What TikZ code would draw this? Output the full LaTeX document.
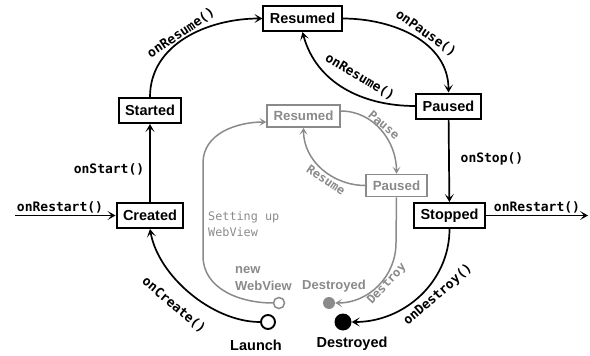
\documentclass[tikz,border=0pt]{standalone}
\usepackage{fontspec}
\setmainfont{Liberation Sans}
\newfontfamily\monofam{DejaVu Sans Mono}
\usetikzlibrary{arrows.meta}
\definecolor{gcol}{RGB}{138,138,138}
\tikzset{
  stbox/.style={draw, line width=2pt, font=\bfseries\fontsize{14.5}{16}\selectfont,
    minimum height=25pt, inner xsep=6.5pt, inner ysep=0pt},
  gbox/.style={draw=gcol, text=gcol, line width=1.7pt, font=\bfseries\fontsize{13.3}{15}\selectfont,
    minimum height=22pt, inner xsep=6.5pt, inner ysep=0pt},
  lab/.style={font=\monofam\bfseries\fontsize{13}{14}\selectfont, inner sep=0pt},
  glab/.style={font=\monofam\bfseries\fontsize{12}{13}\selectfont, text=gcol, inner sep=0pt},
  gtxt/.style={font=\monofam\fontsize{11.8}{16}\selectfont, text=gcol, inner sep=0pt, align=left},
  stlab/.style={font=\bfseries\fontsize{14.5}{16}\selectfont, inner sep=0pt},
  gstlab/.style={font=\bfseries\fontsize{13}{17}\selectfont, text=gcol, inner sep=0pt, align=left},
  conn/.style={line width=1.7pt, -{Stealth[length=8pt,width=9pt,inset=4pt]}},
  gconn/.style={line width=1.5pt, draw=gcol, -{Stealth[length=7pt,width=8pt,inset=3.5pt]}},
}
\begin{document}
\begin{tikzpicture}[x=1pt,y=-1pt]
\path[use as bounding box] (0,0) rectangle (590,356);
% black states
\node[stbox] (R) at (302.5,18.5) {Resumed};
\node[stbox] (S) at (150,110.5) {Started};
\node[stbox] (C) at (150,215.5) {Created};
\node[stbox] (P) at (448.5,106) {Paused};
\node[stbox] (T) at (449.5,215.5) {Stopped};
\node[circle, draw, line width=1.9pt, minimum size=14pt, inner sep=0pt] (L) at (268,322) {};
\node[circle, fill, minimum size=17pt, inner sep=0pt] (D) at (343,322) {};
\node[stlab] (Ltxt) at (256,345) {Launch};
\node[stlab] (Dtxt) at (352,344) {Destroyed};
% gray states
\node[gbox] (gR) at (303.5,116) {Resumed};
\node[gbox] (gP) at (396.5,185.5) {Paused};
\node[circle, draw=gcol, line width=1.5pt, minimum size=11pt, inner sep=0pt] (gO) at (279,303) {};
\node[circle, fill=gcol, minimum size=12pt, inner sep=0pt] (gD) at (329,303) {};
\node[gstlab, text=gcol] (gDtxt) at (334,286) {Destroyed};
\node[gstlab, anchor=west] (gNew) at (235,279) {new\\WebView};
\node[gtxt, anchor=west] (gSet) at (208,224) {Setting up\\WebView};
% coordinates
\coordinate (xL) at (15,215.5);
\coordinate (xR) at (588,215.5);
\coordinate (g1) at (203,256);
\coordinate (g2) at (203,163);
\coordinate (g3) at (396,243);
% black connectors
\draw[conn] (C) -- (S);
\draw[conn] (S.north) to[out=90,in=180] (R.west);
\draw[conn] (R.east) to[out=0,in=90] (P.north);
\draw[conn] (P.west) to[out=180,in=-75] (R.south);
\draw[conn] (P) -- (T);
\draw[conn] (T.east) -- (xR);
\draw[conn] (xL) -- (C.west);
\draw[conn] (L.west) to[out=180,in=-80,looseness=0.85] (C.south);
\draw[conn] (T.south) to[out=-90,in=0] (D.east);
% gray connectors
\draw[gconn] ([yshift=5pt]gR.east) to[out=0,in=90] (gP.north);
\draw[gconn] (gP.west) to[out=180,in=-90] (gR.south);
\draw[gconn] (gO.west) to[out=180,in=-90] (g1) -- (g2) to[out=90,in=180] ([yshift=-6pt]gR.west);
\draw[gconn] (gP.south) -- (g3) to[out=-90,in=0] (gD.east);
% labels
\node[lab] (lStart) at (109,169) {onStart()};
\node[lab, rotate=34] (lRes1) at (181,33) {onResume()};
\node[lab, rotate=-35] (lPause) at (426,33) {onPause()};
\node[lab, rotate=-31] (lRes2) at (360,77) {onResume()};
\node[lab] (lStop) at (492,159) {onStop()};
\node[lab] (lRestL) at (60,207) {onRestart()};
\node[lab] (lRestR) at (537,207) {onRestart()};
\node[lab, rotate=-40] (lCreate) at (174,305) {onCreate()};
\node[lab, rotate=41] (lDestroy) at (438,295) {onDestroy()};
\node[glab, rotate=-40] (gPause) at (384,125) {Pause};
\node[glab, rotate=-34] (gResume) at (326,180) {Resume};
\node[glab, rotate=47] (gDestroy) at (387,284) {Destroy};
\end{tikzpicture}
\end{document}
